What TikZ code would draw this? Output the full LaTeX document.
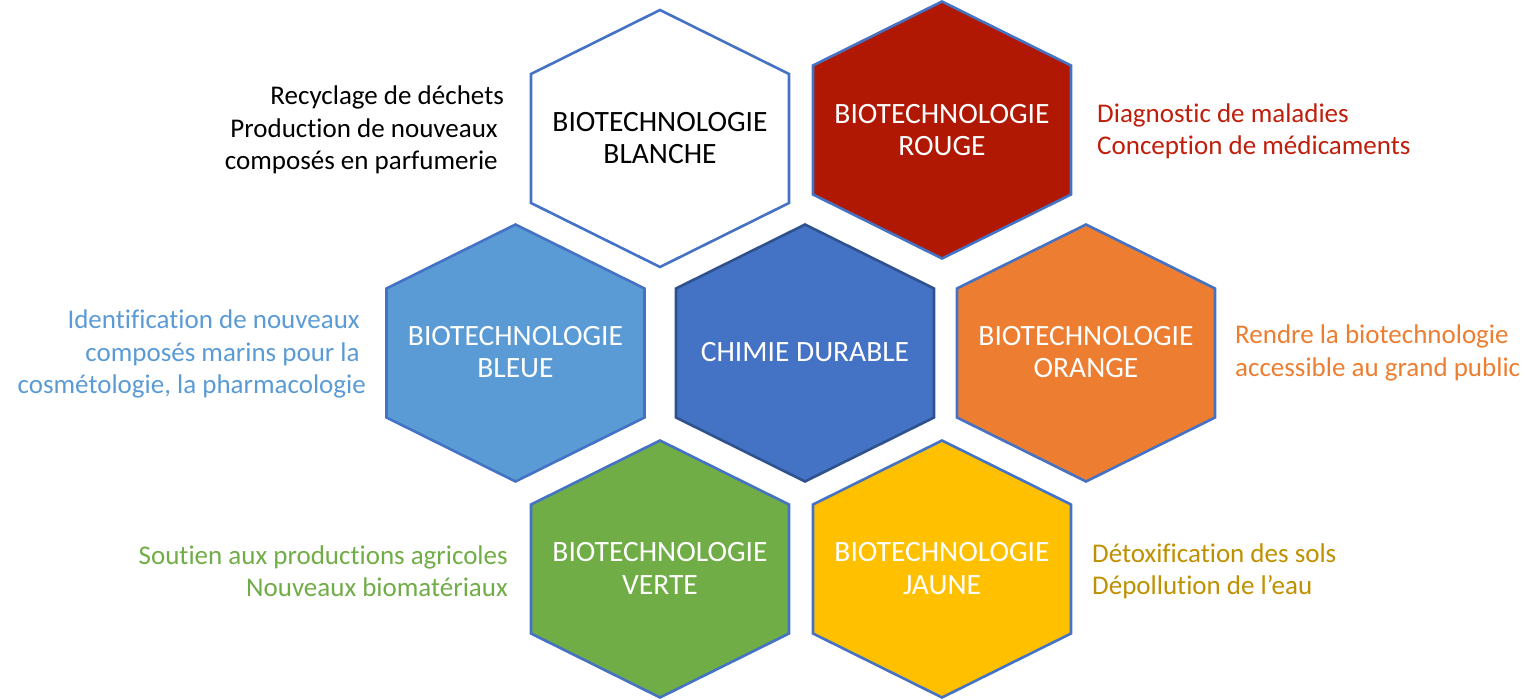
\documentclass[tikz,border=0pt]{standalone}
\usepackage{fontspec}
\setmainfont{Carlito}[Ligatures=NoCommon]
\definecolor{hexline}{RGB}{68,114,196}
\definecolor{hexdark}{RGB}{47,82,143}
\definecolor{rougefill}{RGB}{176,24,4}
\definecolor{rougetxt}{RGB}{190,30,10}
\definecolor{bleuefill}{RGB}{91,155,213}
\definecolor{chimiefill}{RGB}{68,114,196}
\definecolor{orangefill}{RGB}{237,125,49}
\definecolor{vertefill}{RGB}{112,173,71}
\definecolor{jaunefill}{RGB}{255,192,0}
\definecolor{jaunetxt}{RGB}{191,144,0}
\newcommand{\trsp}{\rule{0.226em}{0pt}}
\tikzset{
  hexa/.pic={\path[pic actions] (-129,-64.5)--(0,-128.5)--(129,-64.5)--(129,64.5)--(0,128.5)--(-129,64.5)--cycle;},
  hexstyle/.style={draw=hexline,line width=2.6pt,line join=miter},
  hextext/.style={align=center,font=\fontsize{29.5}{32.5}\selectfont,inner sep=0pt},
  sidel/.style={align=right,anchor=east,font=\fontsize{27}{32.3}\selectfont,inner sep=0pt},
  sider/.style={align=left,anchor=west,font=\fontsize{27}{32.3}\selectfont,inner sep=0pt},
}
\begin{document}
\begin{tikzpicture}[x=1pt,y=-1pt]
\useasboundingbox (0,0) rectangle (1536,700);
% hexagons
\pic[hexstyle,fill=white] at (660,138.5) {hexa};
\pic[hexstyle,fill=rougefill] at (942,130) {hexa};
\pic[hexstyle,fill=bleuefill] at (515.5,353) {hexa};
\pic[hexstyle,draw=hexdark,fill=chimiefill] at (805,353) {hexa};
\pic[hexstyle,fill=orangefill] at (1086,353) {hexa};
\pic[hexstyle,fill=vertefill] at (660,569) {hexa};
\pic[hexstyle,fill=jaunefill] at (942,569) {hexa};
% hexagon labels
\node[hextext,text=black] (blanche) at (660,138) {BIOTECHNOLOGIE\\BLANCHE};
\node[hextext,text=white] (rouge) at (942,130) {BIOTECHNOLOGIE\\ROUGE};
\node[hextext,text=white] (bleue) at (515.5,352) {BIOTECHNOLOGIE\\BLEUE};
\node[hextext,text=white] (chimie) at (805,352) {CHIMIE DURABLE};
\node[hextext,text=white] (orange) at (1086,352) {BIOTECHNOLOGIE\\ORANGE};
\node[hextext,text=white] (verte) at (660,568.5) {BIOTECHNOLOGIE\\VERTE};
\node[hextext,text=white] (jaune) at (942,568.5) {BIOTECHNOLOGIE\\JAUNE};
% side labels
\node[sidel,text=black] (tblanche) at (504,130) {Recyclage de déchets\\Production de nouveaux\trsp\\composés en parfumerie\trsp};
\node[sider,text=rougetxt] (trouge) at (1097,131) {Diagnostic de maladies\\Conception de médicaments};
\node[sidel,text=bleuefill] (tbleue) at (366,354) {Identification de nouveaux\trsp\\composés marins pour la\trsp\\cosmétologie, la pharmacologie};
\node[sider,text=orangefill] (torange) at (1235,353) {Rendre la biotechnologie\\accessible au grand public};
\node[sidel,text=vertefill] (tverte) at (508,571) {Soutien aux productions agricoles\\Nouveaux biomatériaux};
\node[sider,text=jaunetxt] (tjaune) at (1092,571) {Détoxification des sols\\Dépollution de l’eau};
\end{tikzpicture}
\end{document}
